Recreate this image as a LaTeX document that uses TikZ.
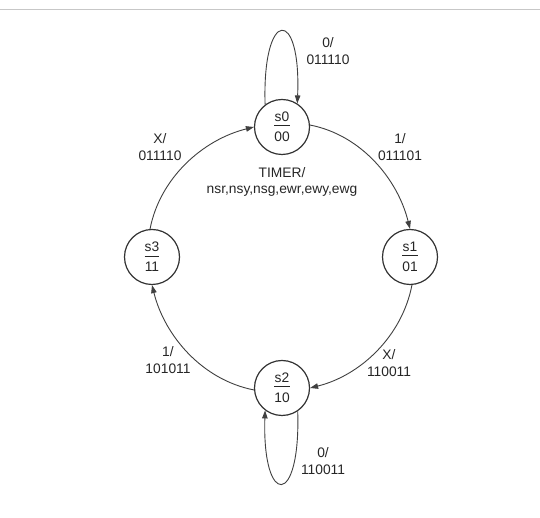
\documentclass[tikz,border=0pt]{standalone}
\usepackage{fontspec}
\setmainfont{Liberation Sans}
\usetikzlibrary{arrows.meta}
\newcommand\sttxt[2]{\vbox{\halign{\hfil##\hfil\cr #1\cr\noalign{\kern3.5pt\hrule height 1pt\kern5.5pt}#2\cr}}}
\tikzset{
  state/.style={circle, draw=black!80, line width=1.2pt, minimum size=55pt, inner sep=0pt, text=black!85},
  edge/.style={draw=black!75, line width=0.9pt, -{Triangle[length=8pt,width=5.5pt]}},
  lbl/.style={align=center, text=black!85, inner sep=0pt}
}
\begin{document}
\begin{tikzpicture}[x=1pt,y=1pt,font=\fontsize{13.8}{16.5}\selectfont]
\useasboundingbox (0,0) rectangle (540,518);
\fill[white] (0,0) rectangle (540,518);
\coordinate (tl) at (0,508);
\coordinate (tr) at (540,508);
\draw[black!22, line width=1pt] (tl) -- (tr);

\node[state] (s0) at (282,391) {\sttxt{s0}{00}};
\node[state] (s1) at (410,261) {\sttxt{s1}{01}};
\node[state] (s2) at (282,130) {\sttxt{s2}{10}};
\node[state] (s3) at (152,261) {\sttxt{s3}{11}};

\draw[edge] (s0.4)    to[out=-11, in=104, looseness=0.92] (s1.90);
\draw[edge] (s1.-86)  to[out=-101,in=14,  looseness=0.92] (s2.0);
\draw[edge] (s2.184)  to[out=169, in=-76, looseness=0.92] (s3.-90);
\draw[edge] (s3.94)   to[out=79,  in=-166,looseness=0.92] (s0.180);

\draw[edge] (s0.127) .. controls +(-3,97) and +(4,97) .. (s0.57);
\draw[edge] (s2.-56) .. controls +(3,-97) and +(-3,-97) .. (s2.-127);

\node[lbl] (l0) at (328,467) {0/\\011110};
\node[lbl] (l1) at (400,371) {1/\\011101};
\node[lbl] (l2) at (389,155) {X/\\110011};
\node[lbl] (l3) at (168,158) {1/\\101011};
\node[lbl] (l4) at (160,371) {X/\\011110};
\node[lbl] (l5) at (323,57) {0/\\110011};
\node[lbl] (lt) at (282,336) {TIMER/\\nsr,nsy,nsg,ewr,ewy,ewg};
\end{tikzpicture}
\end{document}
